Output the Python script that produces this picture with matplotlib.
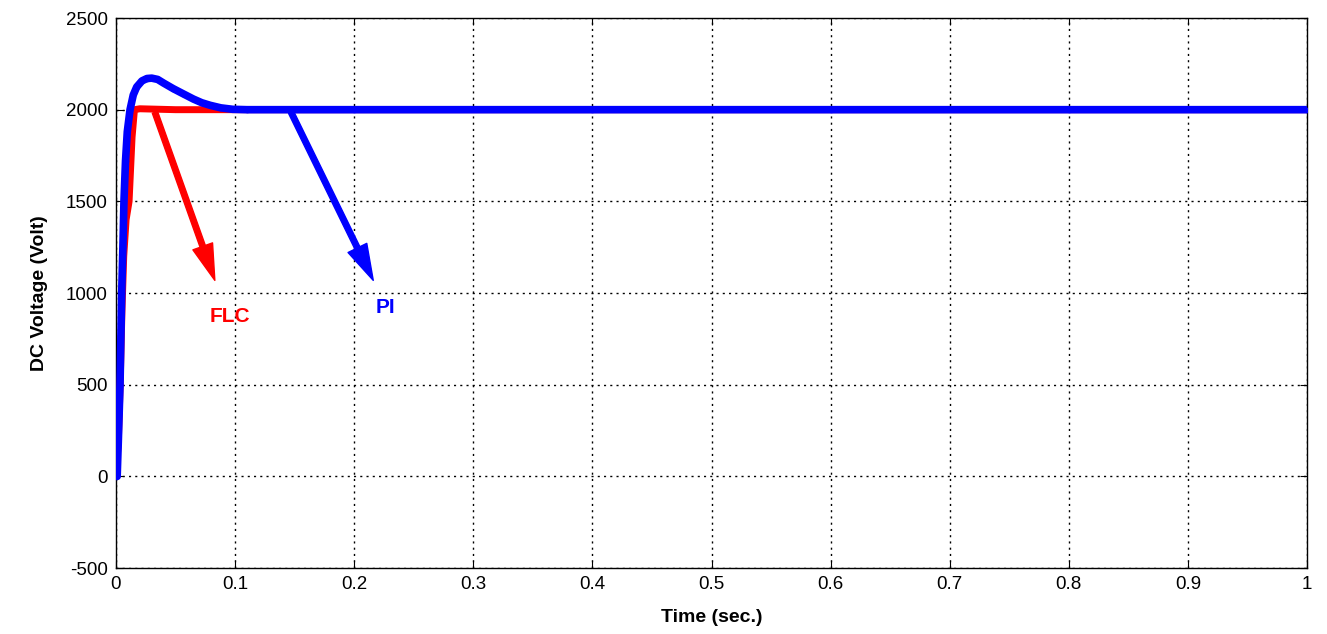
import matplotlib
matplotlib.use("Agg")
import matplotlib.pyplot as plt

# PI controller response (blue)
pi_t = [0.0, 0.001, 0.002, 0.0034, 0.0048, 0.0058, 0.0067, 0.0080, 0.0095, 0.0118,
        0.0145, 0.0174, 0.0218, 0.026, 0.030, 0.035, 0.040, 0.048, 0.056, 0.065,
        0.072, 0.079, 0.088, 0.098, 0.11, 0.2, 0.4, 0.6, 0.8, 1.0]
pi_v = [0, 0, 200, 500, 1000, 1250, 1500, 1720, 1880, 2000,
        2080, 2124, 2157, 2170, 2172, 2165, 2145, 2115, 2088, 2058,
        2038, 2024, 2010, 2002, 2000, 2000, 2000, 2000, 2000, 2000]

# FLC controller response (red)
flc_t = [0.0, 0.002, 0.0035, 0.005, 0.0065, 0.0085, 0.011, 0.0135, 0.0155, 0.02,
         0.05, 0.1, 0.2, 0.5, 1.0]
flc_v = [0, 200, 500, 900, 1200, 1400, 1500, 1850, 2000, 2005,
         2000, 2000, 2000, 2000, 2000]

xticks = [0, 0.1, 0.2, 0.3, 0.4, 0.5, 0.6, 0.7, 0.8, 0.9, 1]
xticklabels = ["0", "0.1", "0.2", "0.3", "0.4", "0.5", "0.6", "0.7", "0.8", "0.9", "1"]
yticks = [-500, 0, 500, 1000, 1500, 2000, 2500]

plt.rcParams['font.family'] = ['Liberation Sans', 'DejaVu Sans']
plt.rcParams['axes.unicode_minus'] = False

fig = plt.figure(figsize=(13.27, 6.34), dpi=100)
ax = fig.add_axes([0.0874, 0.104, 0.8976, 0.8676])

ax.plot(flc_t, flc_v, color='#ff0000', lw=5, solid_capstyle='round', zorder=3)
ax.plot(pi_t, pi_v, color='#0000ff', lw=5.5, marker='o', markersize=3,
        solid_capstyle='round', zorder=4)

ax.set_xlim(0, 1)
ax.set_ylim(-500, 2500)
ax.set_xticks(xticks)
ax.set_xticklabels(xticklabels)
ax.set_yticks(yticks)
ax.tick_params(direction='in', top=True, right=True, labelsize=13.5, length=5, pad=6)
ax.grid(True, color='black', linestyle=(0, (1.5, 3)), linewidth=1)
for s in ax.spines.values():
    s.set_linewidth(1)

ax.set_xlabel("Time (sec.)", fontsize=14, fontweight='bold', labelpad=11)
ax.set_ylabel("DC Voltage (Volt)", fontsize=14, fontweight='bold', labelpad=13)

arrow_kw = dict(width=4, headwidth=15, headlength=26, shrink=0)
ax.annotate("", xy=(0.083, 1069), xytext=(0.0327, 1986),
            arrowprops=dict(color='#ff0000', **arrow_kw), zorder=5)
ax.text(0.0957, 873, "FLC", color='#ff0000', fontsize=15, fontweight='bold',
        ha='center', va='center')

ax.annotate("", xy=(0.216, 1069), xytext=(0.147, 1986),
            arrowprops=dict(color='#0000ff', **arrow_kw), zorder=5)
ax.text(0.226, 922, "PI", color='#0000ff', fontsize=15, fontweight='bold',
        ha='center', va='center')

fig.savefig("out.png", dpi=100)
